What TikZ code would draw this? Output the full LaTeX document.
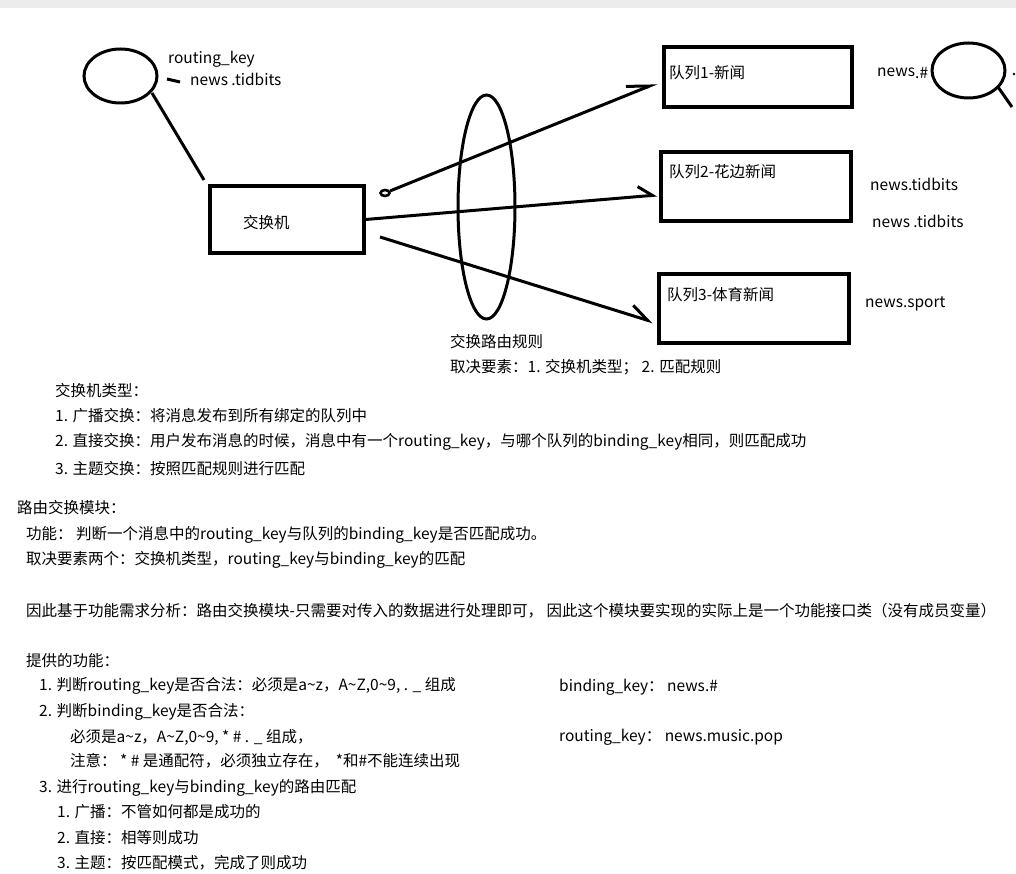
\documentclass[tikz,border=0pt]{standalone}
\usepackage{fontspec}
\setmainfont{Noto Sans CJK SC}
\usetikzlibrary{arrows.meta,shapes.geometric}
\definecolor{band}{HTML}{ECECEC}
\begin{document}
\begin{tikzpicture}[x=1pt,y=-1pt,
  txt/.style={anchor=base west,inner sep=0pt,font=\fontsize{15.5pt}{18pt}\selectfont},
  stroke/.style={line width=3pt,black},
  qbox/.style={draw,line width=3.2pt,inner sep=0pt},
  circ/.style={ellipse,draw,line width=3pt,inner sep=0pt}
]
\useasboundingbox (0,0) rectangle (1016,874);
\fill[band] (0,0) rectangle (1016,8);

% top-left circle and its label
\node[circ,minimum width=73pt,minimum height=54pt] (c1) at (120.5,76) {};
\node[txt] (rk) at (168,64) {routing\_key};
\node[txt] (rkv) at (190,86) {news .tidbits};
\coordinate (d1) at (167,79);
\coordinate (d2) at (180,82);
\draw[stroke] (d1) -- (d2);

% exchange
\node[qbox,minimum width=154pt,minimum height=67pt] (ex) at (287,219.5) {};
\node[txt] (exl) at (243,229) {交换机};
\coordinate (c1end) at (152,93);
\coordinate (exin) at (204,180);
\draw[stroke] (c1end) -- (exin);

% routing rule ellipse
\node[circ,minimum width=57pt,minimum height=224pt] (rule) at (486.5,207) {};
\node[txt] (rulel) at (450,347) {交换路由规则};
\node[txt] (rule2) at (450,372) {取决要素：1. 交换机类型；\ 2. 匹配规则};

% queues
\node[qbox,minimum width=188pt,minimum height=60pt] (q1) at (758,77) {};
\node[qbox,minimum width=190pt,minimum height=69pt] (q2) at (756,186.5) {};
\node[qbox,minimum width=190pt,minimum height=69pt] (q3) at (754,308.5) {};
\node[txt] (q1l) at (669,79) {队列1-新闻};
\node[txt] (q2l) at (669,178) {队列2-花边新闻};
\node[txt] (q3l) at (667,301) {队列3-体育新闻};

% arrows
\node[ellipse,draw,line width=2.6pt,inner sep=0pt,minimum width=9pt,minimum height=6pt] (blob) at (385,193) {};
\coordinate (s3) at (380,237);
\coordinate (t1) at (657,83);
\coordinate (t2) at (657,195);
\coordinate (t3) at (653,322);
\draw[stroke,-{Straight Barb[harpoon,length=22pt,width=17pt,line width=3pt]}] (blob) -- (t1);
\draw[stroke,-{Straight Barb[harpoon,length=14pt,width=20pt,line width=3pt]}] (ex.east) -- (t2);
\draw[stroke,-{Straight Barb[harpoon,length=18pt,width=20pt,line width=3pt]}] (s3) -- (t3);

% right side labels
\node[txt] (bk1) at (877,77) {news};
\node[txt] (bk1b) at (915,79) {.\#};
\node[circ,minimum width=73pt,minimum height=55pt] (c2) at (968.5,70.5) {};
\coordinate (h1) at (998,87);
\coordinate (h2) at (1012,107);
\draw[stroke] (h1) -- (h2);
\fill (1014,74) circle (1.3pt);
\node[txt] (bk2) at (870,191) {news.tidbits};
\node[txt] (bk2b) at (872,228) {news .tidbits};
\node[txt] (bk3) at (865,307) {news.sport};

% text body
\node[txt] (l1) at (55,396) {交换机类型：};
\node[txt] (l2) at (55,421) {1. 广播交换：将消息发布到所有绑定的队列中};
\node[txt] (l3) at (55,446) {2. 直接交换：用户发布消息的时候，消息中有一个routing\_key，与哪个队列的binding\_key相同，则匹配成功};
\node[txt] (l4) at (55,474) {3. 主题交换：按照匹配规则进行匹配};
\node[txt] (l5) at (17,513) {路由交换模块：};
\node[txt] (l6) at (26,539) {功能：\ 判断一个消息中的routing\_key与队列的binding\_key是否匹配成功。};
\node[txt] (l7) at (26,564) {取决要素两个：交换机类型，routing\_key与binding\_key的匹配};
\node[txt] (l8) at (26,616) {因此基于功能需求分析：路由交换模块-只需要对传入的数据进行处理即可，\ 因此这个模块要实现的实际上是一个功能接口类（没有成员变量）};
\node[txt] (l9) at (26,666) {提供的功能：};
\node[txt] (l10) at (39,690) {1. 判断routing\_key是否合法：必须是a\textasciitilde z，A\textasciitilde Z,0\textasciitilde 9, . \_ 组成};
\node[txt] (l11) at (39,716) {2. 判断binding\_key是否合法：};
\node[txt] (l12) at (70,742) {必须是a\textasciitilde z，A\textasciitilde Z,0\textasciitilde 9, * \# . \_ 组成，};
\node[txt] (l13) at (70,766) {注意：\ * \# 是通配符，必须独立存在，\ \ *和\#不能连续出现};
\node[txt] (l14) at (39,792) {3. 进行routing\_key与binding\_key的路由匹配};
\node[txt] (l15) at (57,817) {1. 广播：不管如何都是成功的};
\node[txt] (l16) at (57,843) {2. 直接：相等则成功};
\node[txt] (l17) at (57,868) {3. 主题：按匹配模式，完成了则成功};
\node[txt] (ex1) at (559,691) {binding\_key：\ news.\#};
\node[txt] (ex2) at (559,741) {routing\_key：\ news.music.pop};
\end{tikzpicture}
\end{document}
